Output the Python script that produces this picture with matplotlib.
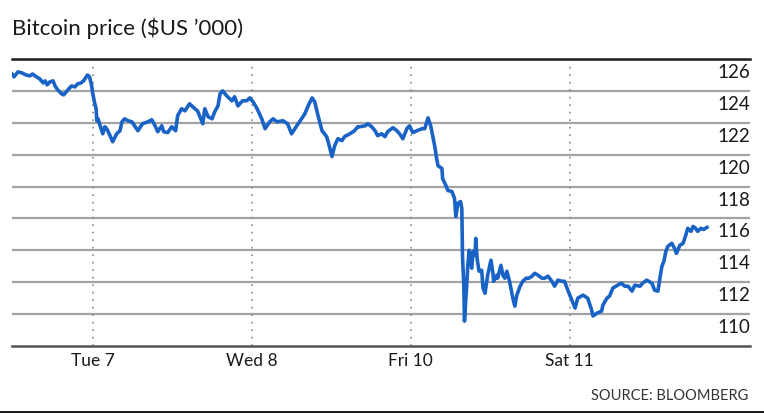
import matplotlib.pyplot as plt
from matplotlib.lines import Line2D

plt.rcParams['font.family'] = ['Lato', 'DejaVu Sans']

# hours since Tue 7 (as placed on the chart) and price in $US '000
hours = [-12.2, -11.9, -11.3, -10.7, -10.1, -9.5, -9.1, -8.5, -8.0, -7.5, -7.2, -6.9, -6.5, -6.0,
         -5.7, -5.3, -4.7, -4.4, -3.9, -3.5, -3.2, -2.7, -2.3, -1.8, -1.4, -1.1, -0.8, -0.5, -0.2,
         0.0, 0.3, 0.5, 0.6, 0.8, 1.1, 1.5, 1.8, 2.1, 2.6, 3.0, 3.6, 4.1, 4.4, 4.8, 5.3, 5.9,
         6.8, 7.5, 8.3, 8.9, 9.4, 9.8, 10.4, 10.7, 11.3, 11.9, 12.5, 12.8, 13.4, 13.9, 14.6,
         15.4, 15.8, 16.6, 16.9, 17.4, 18.0, 18.4, 18.9, 19.2, 19.6, 20.2, 21.0, 21.4, 21.9,
         22.6, 23.2, 23.7, 24.2, 24.8, 25.5, 26.0, 26.7, 27.2, 27.8, 28.7, 29.4, 30.0, 30.5,
         31.2, 32.0, 32.5, 33.1, 33.5, 34.0, 34.6, 35.3, 35.6, 36.1, 36.5, 37.0, 37.6, 38.0,
         38.8, 39.5, 40.0, 40.3, 41.1, 41.5, 42.1, 42.6, 43.0, 43.6, 44.1, 44.5, 45.3, 45.9,
         46.3, 46.8, 47.4, 47.8, 48.3, 48.9, 49.7, 50.1, 50.6, 51.0, 51.3, 51.6, 51.9, 52.1,
         52.7, 52.8, 53.3, 53.6, 54.2, 54.6, 54.8, 55.1, 55.5, 55.7, 55.8, 56.0, 56.1, 56.5,
         56.6, 56.8, 57.2, 57.4, 57.7, 57.8, 58.0, 58.3, 58.7, 58.9, 59.2, 59.6, 60.1, 60.4,
         60.5, 61.0, 61.1, 61.6, 61.9, 62.2, 62.5, 62.9, 63.4, 63.7, 64.0, 64.5, 64.9, 65.4,
         65.8, 66.3, 66.7, 67.2, 67.8, 68.2, 68.7, 69.3, 69.7, 70.2, 70.8, 71.2, 71.7, 72.3,
         72.8, 73.2, 74.0, 74.7, 75.3, 75.5, 76.1, 76.8, 77.0, 77.6, 78.0, 78.5, 79.2, 79.8,
         80.3, 80.8, 81.4, 81.8, 82.6, 83.0, 83.6, 84.4, 84.8, 85.3, 85.6, 85.9, 86.2, 86.5,
         86.8, 87.4, 87.8, 88.1, 88.6, 89.1, 89.5, 89.8, 90.3, 90.6, 91.0, 91.3, 91.8, 92.2, 92.7]
price = [125.06, 124.88, 125.19, 125.13, 125.0, 124.94, 125.06, 124.88, 124.75, 124.5, 124.63,
         124.38, 124.56, 124.63, 124.31, 124.06, 123.81, 123.75, 124.0, 124.19, 124.31, 124.25,
         124.44, 124.5, 124.63, 124.81, 125.0, 124.88, 124.38,
         123.81, 123.19, 122.88, 122.13, 122.25, 121.81, 121.31, 121.75, 121.63, 121.19, 120.81,
         121.31, 121.5, 122.06, 122.25, 122.13, 122.06, 121.5, 121.94, 122.06, 122.19, 121.81,
         121.44, 121.81, 121.44, 121.38, 121.75, 121.5, 122.44, 122.88, 122.75, 123.19, 122.88,
         122.75, 121.94, 122.88, 122.38, 122.25, 122.69, 123.06, 123.81, 124.0, 123.69, 123.38,
         123.63, 123.06, 123.38, 123.38, 123.56, 123.31, 122.88, 122.25, 121.63, 122.06, 122.25,
         122.06, 122.13, 121.94, 121.31, 121.63, 122.06, 122.56, 123.06, 123.56, 123.31, 122.44,
         121.5, 121.13, 120.69, 119.88, 120.56, 121.0, 120.88, 121.13, 121.31, 121.5, 121.75,
         121.75, 121.81, 121.94, 121.75, 121.5, 121.19, 121.31, 121.13, 121.44, 121.69, 121.5,
         121.31, 121.0, 121.63, 121.81, 121.38, 121.5, 121.63, 121.63, 122.31, 121.81, 121.19,
         120.56, 119.75, 119.31, 119.13, 118.5, 118.06, 117.75, 117.69, 117.25, 116.13, 116.94,
         117.06, 116.63, 113.69, 111.81, 109.56, 112.25, 113.06, 114.0, 112.88, 113.94, 113.69,
         114.75, 113.5, 112.69, 112.75, 111.63, 111.31, 112.44, 113.38, 112.56, 112.06, 112.44,
         112.25, 113.06, 112.44, 112.25, 112.69, 112.06, 111.0, 110.5, 111.19, 111.75, 112.06,
         112.25, 112.25, 112.38, 112.56, 112.44, 112.25, 112.25, 112.38, 112.06, 111.75, 112.13,
         112.06, 112.06, 111.5, 110.88, 110.38, 111.0, 111.19, 111.0, 110.25, 109.88, 110.06,
         110.19, 110.56, 111.0, 111.13, 111.63, 111.81, 111.94, 111.75, 111.75, 111.44, 111.81,
         111.75, 111.94, 112.13, 111.94, 111.5, 111.44, 112.25, 113.0, 113.31, 113.94, 114.25,
         114.44, 114.13, 113.81, 114.31, 114.44, 114.94, 115.38, 115.19, 115.5, 115.38, 115.19,
         115.38, 115.31, 115.44]

day_pos = [0, 24, 48, 72]
day_labels = ['Tue 7', 'Wed 8', 'Fri 10', 'Sat 11']
y_ticks = [110, 112, 114, 116, 118, 120, 122, 124, 126]

fig = plt.figure(figsize=(7.64, 4.14), dpi=100)
ax = fig.add_axes([12 / 764, 1 - 347 / 414, 738 / 764, 287 / 414])

ax.set_xlim(-12.2, 99.2)
ax.set_ylim(108, 126)

for v in y_ticks[:-1]:
    ax.axhline(v, color='#a3a3a3', lw=1.6, zorder=1)
for d in day_pos:
    ax.axvline(d, color='#8a8a8a', lw=1.2, ls=(0, (1, 3.5)), zorder=1, ymin=0.0, ymax=0.99)

ax.plot(hours, price, color='#1a63c6', lw=2.6, solid_joinstyle='round', zorder=3)

for s in ['left', 'right']:
    ax.spines[s].set_visible(False)
ax.spines['top'].set_color('#1a1a1a')
ax.spines['top'].set_linewidth(1.8)
ax.spines['bottom'].set_color('#555555')
ax.spines['bottom'].set_linewidth(1.8)

ax.set_yticks([])
ax.set_xticks(day_pos)
ax.set_xticklabels(day_labels, fontsize=12.5, color='#1a1a1a')
ax.tick_params(axis='x', length=0, pad=4)

for v in y_ticks:
    ax.text(99.2, v - 0.25, str(v), ha='right', va='top', fontsize=13.5, color='#1a1a1a')

fig.text(12 / 764, 1 - 28 / 414, "Bitcoin price ($US \u2019000)", fontsize=16,
         ha='left', va='center', color='#1a1a1a')
fig.text(748 / 764, 1 - 396 / 414, 'SOURCE: BLOOMBERG', fontsize=10.5,
         ha='right', va='center', color='#333333')
fig.add_artist(Line2D([0, 1], [1.5 / 414, 1.5 / 414], color='#111111', lw=2,
                      transform=fig.transFigure))

fig.savefig('out.png', dpi=100, facecolor='white')
